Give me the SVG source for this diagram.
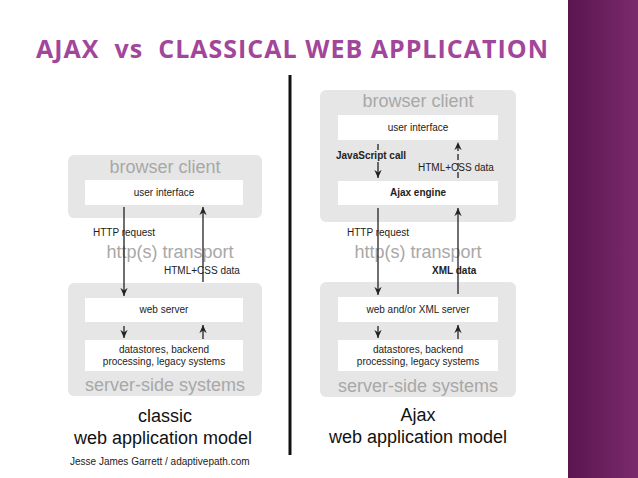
<svg xmlns="http://www.w3.org/2000/svg" width="638" height="478" viewBox="0 0 638 478">
<defs>
<linearGradient id="bar" x1="0" y1="0" x2="1" y2="0"><stop offset="0" stop-color="#5a1550"/><stop offset="1" stop-color="#7a2a6c"/></linearGradient>
<marker id="ah" viewBox="0 0 10 10" refX="9" refY="5" markerWidth="7" markerHeight="7" orient="auto"><path d="M0,1 L9,5 L0,9 L3,5 Z" fill="#222"/></marker>
<style>
.grp{fill:#e6e6e6}
.box{fill:#fff}
.t{font-family:"Liberation Sans",Arial,sans-serif;fill:#222;font-size:10px}
.b{font-weight:bold}
.big{font-family:"Liberation Sans",Arial,sans-serif;fill:#a8a8a8;font-size:18px}
.cap{font-family:"Liberation Sans",Arial,sans-serif;fill:#111;font-size:18px}
.ln{stroke:#222;stroke-width:1.3;fill:none;marker-end:url(#ah)}
</style>
</defs>
<rect width="638" height="478" fill="#fff"/>
<rect x="568" y="0" width="70" height="478" fill="url(#bar)"/>
<text x="36" y="58" font-family="Open Sans,Liberation Sans,sans-serif" font-size="25" font-weight="bold" fill="#a2469c" textLength="512" lengthAdjust="spacing" xml:space="preserve">AJAX  vs  CLASSICAL WEB APPLICATION</text>
<line x1="290" y1="75" x2="290" y2="455" stroke="#111" stroke-width="3"/>

<g id="left-browser"><rect class="grp" x="68" y="155" width="194" height="63" rx="6"/><text class="big" x="165" y="173" text-anchor="middle">browser client</text></g>
<g id="left-ui"><rect class="box" x="85" y="180" width="158" height="25"/><text class="t" x="164" y="196" text-anchor="middle">user interface</text></g>
<g id="left-server"><rect class="grp" x="68" y="283" width="194" height="113" rx="6"/><text class="big" x="165" y="391" text-anchor="middle">server-side systems</text></g>
<g id="left-web"><rect class="box" x="85" y="298" width="158" height="24"/><text class="t" x="164" y="313" text-anchor="middle">web server</text></g>
<g id="left-data"><rect class="box" x="85" y="340" width="158" height="31"/><text class="t" x="164" y="353" text-anchor="middle">datastores, backend</text><text class="t" x="164" y="365" text-anchor="middle">processing, legacy systems</text></g>
<text class="big" x="170" y="258" text-anchor="middle">http(s) transport</text>
<text class="t" x="93" y="236">HTTP request</text>
<text class="t" x="164" y="274">HTML+CSS data</text>
<text class="cap" x="165" y="422" text-anchor="middle">classic</text>
<text class="cap" x="163" y="444" text-anchor="middle">web application model</text>
<text class="t" x="70" y="465" font-size="9">Jesse James Garrett / adaptivepath.com</text>

<g id="right-browser"><rect class="grp" x="320" y="90" width="196" height="132" rx="6"/><text class="big" x="418" y="107" text-anchor="middle">browser client</text></g>
<g id="right-ui"><rect class="box" x="338" y="115" width="160" height="25"/><text class="t" x="418" y="131" text-anchor="middle">user interface</text></g>
<g id="right-engine"><rect class="box" x="338" y="181" width="160" height="24"/><text class="t b" x="418" y="196" text-anchor="middle">Ajax engine</text></g>
<g id="right-server"><rect class="grp" x="320" y="282" width="196" height="115" rx="6"/><text class="big" x="418" y="392" text-anchor="middle">server-side systems</text></g>
<g id="right-web"><rect class="box" x="338" y="297" width="160" height="25"/><text class="t" x="418" y="313" text-anchor="middle">web and/or XML server</text></g>
<g id="right-data"><rect class="box" x="338" y="340" width="160" height="31"/><text class="t" x="418" y="353" text-anchor="middle">datastores, backend</text><text class="t" x="418" y="365" text-anchor="middle">processing, legacy systems</text></g>
<text class="t b" x="336" y="159">JavaScript call</text>
<text class="t" x="418" y="171">HTML+CSS data</text>
<text class="t" x="347" y="236">HTTP request</text>
<text class="big" x="418" y="258" text-anchor="middle">http(s) transport</text>
<text class="t b" x="432" y="274">XML data</text>
<text class="cap" x="418" y="421" text-anchor="middle">Ajax</text>
<text class="cap" x="418" y="443" text-anchor="middle">web application model</text>

<g id="connectors">
<line class="ln" x1="124" y1="207" x2="124" y2="296"/>
<line class="ln" x1="203" y1="282" x2="203" y2="207"/>
<line class="ln" x1="124" y1="326" x2="124" y2="338"/>
<line class="ln" x1="203" y1="339" x2="203" y2="325"/>
<line x1="378" y1="144" x2="378" y2="150" stroke="#222" stroke-width="1.3"/>
<line class="ln" x1="378" y1="162" x2="378" y2="178"/>
<line class="ln" x1="458" y1="178" x2="458" y2="142" stroke-dasharray="6 3"/>
<line class="ln" x1="378" y1="208" x2="378" y2="295"/>
<line class="ln" x1="458" y1="294" x2="458" y2="208"/>
<line class="ln" x1="378" y1="326" x2="378" y2="338"/>
<line class="ln" x1="458" y1="339" x2="458" y2="325"/>
</g>
</svg>
